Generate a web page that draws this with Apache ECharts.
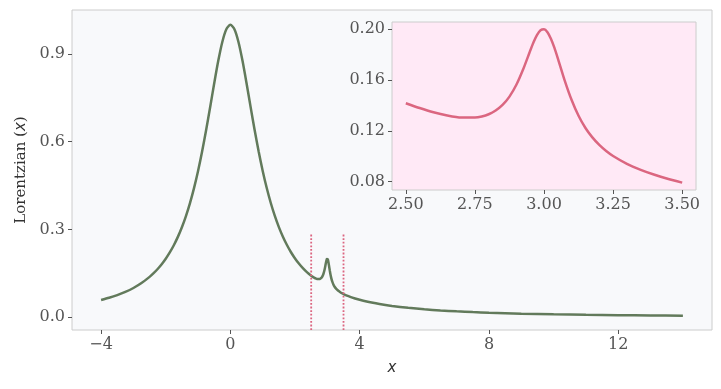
<!DOCTYPE html>
<html>
<head>
<meta charset="utf-8">
<script src="https://cdn.jsdelivr.net/npm/echarts@6/dist/echarts.min.js"></script>
<style>
html,body{margin:0;padding:0;background:#ffffff;}
#chart{width:721px;height:389px;}
</style>
</head>
<body>
<div id="chart"></div>
<script>
// Main curve samples (x, y)
const mainX = [-4,-3.75,-3.5,-3.25,-3,-2.75,-2.5,-2.375,-2.25,-2.125,-2,-1.875,-1.75,-1.625,-1.5,-1.375,-1.25,-1.125,-1,-0.875,-0.75,-0.625,-0.5,-0.375,-0.25,-0.125,
  0,0.125,0.25,0.375,0.5,0.625,0.75,0.875,1,1.125,1.25,1.375,1.5,1.625,1.75,1.875,2,2.125,2.25,2.375,
  2.5,2.55,2.6,2.65,2.7,2.75,2.775,2.8,2.825,2.85,2.875,2.9,2.925,2.95,2.9625,2.975,2.9875,3,3.0125,3.025,3.0375,3.05,3.075,3.1,3.125,3.15,3.175,3.2,3.225,3.25,3.3,3.35,3.4,3.45,3.5,
  3.75,4,4.25,4.5,4.75,5,5.5,6,6.5,7,7.5,8,9,10,11,12,13,14];
const mainY = [0.0588,0.0664,0.0755,0.0865,0.1000,0.1168,0.1380,0.1506,0.1650,0.1813,0.2000,0.2215,0.2462,0.2747,0.3077,0.3460,0.3903,0.4414,0.5000,0.5664,0.6400,0.7191,0.8000,0.8767,0.9412,0.9846,
  1.0001,0.9847,0.9413,0.8768,0.8001,0.7193,0.6402,0.5665,0.5003,0.4417,0.3906,0.3463,0.3081,0.2752,0.2468,0.2222,0.2010,0.1826,0.1667,0.1531,
  0.1418,0.1380,0.1347,0.1322,0.1306,0.1306,0.1314,0.1331,0.1360,0.1404,0.1470,0.1563,0.1687,0.1831,0.1900,0.1956,0.1992,0.2000,0.1977,0.1926,0.1855,0.1771,0.1596,0.1443,0.1319,0.1223,0.1149,0.1090,0.1042,0.1003,0.0941,0.0894,0.0855,0.0822,0.0793,
  0.0681,0.0598,0.0531,0.0475,0.0428,0.0387,0.0322,0.0271,0.0232,0.0201,0.0175,0.0154,0.0122,0.0099,0.0082,0.0069,0.0059,0.0051];

// Zoomed inset samples
const insetX = [2.5,2.55,2.6,2.65,2.7,2.75,2.775,2.8,2.825,2.85,2.875,2.9,2.925,2.95,2.9625,2.975,2.9875,3,3.0125,3.025,3.0375,3.05,3.075,3.1,3.125,3.15,3.175,3.2,3.225,3.25,3.3,3.35,3.4,3.45,3.5];
const insetY = [0.1418,0.1380,0.1347,0.1322,0.1306,0.1306,0.1314,0.1331,0.1360,0.1404,0.1470,0.1563,0.1687,0.1831,0.1900,0.1956,0.1992,0.2000,0.1977,0.1926,0.1855,0.1771,0.1596,0.1443,0.1319,0.1223,0.1149,0.1090,0.1042,0.1003,0.0941,0.0894,0.0855,0.0822,0.0793];

// Zoom window marker lines
const windowX = [2.5, 3.5];
const windowTop = 0.285;

// Tick labels
const mainXTicks = [-4, 0, 4, 8, 12];
const mainYTicks = [0.0, 0.3, 0.6, 0.9];
const insetXTicks = [2.5, 2.75, 3.0, 3.25, 3.5];
const insetYTicks = [0.08, 0.12, 0.16, 0.20];

const MAIN_XMIN = -4.9, MAIN_XMAX = 14.9, MAIN_YMIN = -0.0437, MAIN_YMAX = 1.0505;
const INS_XMIN = 2.45, INS_XMAX = 3.55, INS_YMIN = 0.0735, INS_YMAX = 0.2057;

const serif = "DejaVu Serif";
const tickColor = "#555555";
const lineGreen = "#627a5b";
const pink = "#db6680";

function axisCommon(ticks, fmt, extra) {
  return Object.assign({
    type: 'value',
    axisLine: { show: false, onZero: false },
    splitLine: { show: false },
    axisTick: { show: true, customValues: ticks, length: 4, lineStyle: { color: tickColor, width: 1 } },
    axisLabel: { customValues: ticks, formatter: fmt, color: tickColor, fontFamily: serif, fontSize: 16, margin: 7 }
  }, extra);
}
const minus = s => String(s).replace('-', '\u2212');

const chart = echarts.init(document.getElementById('chart'), null, { renderer: 'canvas' });
chart.setOption({
  animation: false,
  backgroundColor: '#ffffff',
  grid: [
    { left: 72, top: 10, width: 640, height: 320, show: true, backgroundColor: '#f8f9fb', borderColor: '#cccccc', borderWidth: 1, z: 0 },
    { left: 392, top: 22, width: 304, height: 168, show: true, backgroundColor: '#ffe9f6', borderColor: '#cccccc', borderWidth: 1, z: 5 }
  ],
  xAxis: [
    axisCommon(mainXTicks, v => minus(v), {
      gridIndex: 0, min: MAIN_XMIN, max: MAIN_XMAX,
      name: 'x', nameLocation: 'middle', nameGap: 31,
      nameTextStyle: { fontFamily: 'DejaVu Sans', fontStyle: 'italic', fontSize: 15, color: '#333333' }
    }),
    axisCommon(insetXTicks, v => Number(v).toFixed(2), { gridIndex: 1, min: INS_XMIN, max: INS_XMAX, z: 6 })
  ],
  yAxis: [
    axisCommon(mainYTicks, v => Number(v).toFixed(1), {
      gridIndex: 0, min: MAIN_YMIN, max: MAIN_YMAX,
      name: '{a|Lorentzian (}{b|x}{a|)}', nameLocation: 'middle', nameGap: 43, nameRotate: 90,
      nameTextStyle: { rich: {
        a: { fontFamily: serif, fontSize: 15, color: '#333333' },
        b: { fontFamily: 'DejaVu Sans', fontStyle: 'italic', fontSize: 15, color: '#333333' }
      } }
    }),
    axisCommon(insetYTicks, v => Number(v).toFixed(2), { gridIndex: 1, min: INS_YMIN, max: INS_YMAX, z: 6 })
  ],
  series: [
    {
      type: 'line', xAxisIndex: 0, yAxisIndex: 0, z: 3,
      data: mainX.map((x, i) => [x, mainY[i]]),
      showSymbol: false, smooth: 0.25,
      lineStyle: { color: lineGreen, width: 2.5 }
    },
    ...windowX.map(x => ({
      type: 'line', xAxisIndex: 0, yAxisIndex: 0, z: 4,
      data: [[x, MAIN_YMIN], [x, windowTop]],
      showSymbol: false,
      lineStyle: { color: pink, width: 1.8, type: [1.8, 1.8], cap: 'butt' }
    })),
    {
      type: 'line', xAxisIndex: 1, yAxisIndex: 1, z: 8,
      data: insetX.map((x, i) => [x, insetY[i]]),
      showSymbol: false, smooth: 0.2,
      lineStyle: { color: pink, width: 2.5 }
    }
  ]
});
</script>
</body>
</html>
